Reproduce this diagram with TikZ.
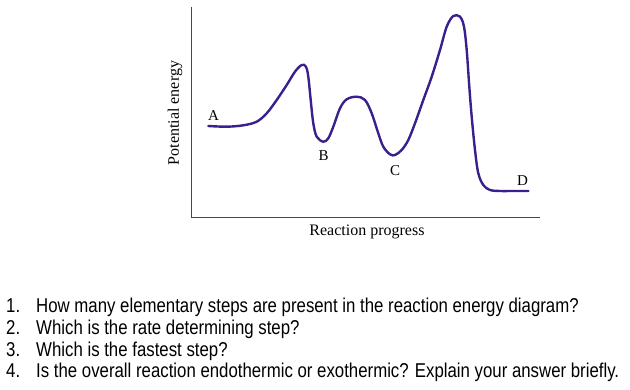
\documentclass[tikz,border=0pt]{standalone}
\usepackage{fontspec}
\setmainfont{Liberation Serif}
\newfontfamily\qfont[FakeStretch=0.84]{Liberation Sans}
\definecolor{curvecol}{RGB}{58,32,140}
\definecolor{axiscol}{RGB}{70,70,70}
\tikzset{
  lbl/.style={font=\fontsize{15}{18}\selectfont, inner sep=0pt},
  axlbl/.style={font=\fontsize{16}{19}\selectfont, inner sep=0pt},
  qnum/.style={font=\qfont\fontsize{20}{22}\selectfont, anchor=base west, inner sep=0pt},
  qtext/.style={font=\qfont\fontsize{20}{22}\selectfont, anchor=base west, inner sep=0pt},
}
\begin{document}
\begin{tikzpicture}[x=1pt,y=-1pt]
\useasboundingbox (0,0) rectangle (630,390);
\coordinate (top) at (191,7);
\coordinate (origin) at (191,218);
\coordinate (right) at (540,218);
\draw[axiscol, line width=1pt] (top) -- (origin) -- (right);
\draw[curvecol, line width=2.4pt, line cap=round] plot[smooth, tension=0.55] coordinates {
(208.3,126) (226.7,126.7) (243.3,125.3) (256.7,121.7) (266.7,113.3) (276.7,100)
(286.7,85) (295,71.7) (301.7,65) (306,66.7) (308.3,76.7) (310.7,100) (313.3,123.3)
(316.7,136.7) (323.3,141.7) (328.3,138.3) (333.3,126.7) (340,108.3) (346.7,99.3)
(356.7,96.7) (365,100) (371.7,113.3) (378.3,133.3) (383.3,146.7) (390,154.3)
(395,155) (401.7,150) (408.3,140) (415,123.3) (423.3,100) (431.7,76.7) (440,50)
(446.7,26.7) (453.3,16) (460,16.7) (464,26.7) (466.7,50) (469.3,86.7) (471.7,116.7)
(475,150) (478.3,173.3) (483.3,185) (490,190) (500,191) (513.3,191) (528.3,191)};
\node[lbl] (A) at (213.5,116) {A};
\node[lbl] (B) at (323.5,156) {B};
\node[lbl] (C) at (395,171) {C};
\node[lbl] (D) at (522.5,181) {D};
\node[axlbl, rotate=90] (ylab) at (175,113) {Potential energy};
\node[axlbl] (xlab) at (367,232) {Reaction progress};
\node[qnum] (n1) at (6,312.5) {1.};
\node[qtext] (q1) at (36,312.5) {How many elementary steps are present in the reaction energy diagram?};
\node[qnum] (n2) at (6,334.5) {2.};
\node[qtext] (q2) at (36,334.5) {Which is the rate determining step?};
\node[qnum] (n3) at (6,356.5) {3.};
\node[qtext] (q3) at (36,356.5) {Which is the fastest step?};
\node[qnum] (n4) at (6,377.5) {4.};
\node[qtext] (q4) at (36,377.5) {Is the overall reaction endothermic or exothermic? Explain your answer briefly.};
\end{tikzpicture}
\end{document}
